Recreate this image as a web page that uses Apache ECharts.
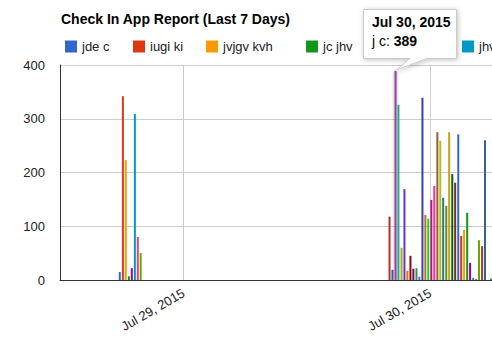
<!DOCTYPE html>
<html>
<head>
<meta charset="utf-8">
<script src="https://cdn.jsdelivr.net/npm/echarts@6/dist/echarts.min.js"></script>
<style>
  html, body { margin: 0; padding: 0; background: #fff; }
  #chart { width: 492px; height: 352px; }
</style>
</head>
<body>
<div id="chart"></div>
<script>
// check-ins per series, one bar each
const barTimes = [
  '2015-07-28 17:48', '2015-07-28 18:06', '2015-07-28 18:23', '2015-07-28 18:41',
  '2015-07-28 18:58', '2015-07-28 19:16', '2015-07-28 19:33', '2015-07-28 19:50',
  '2015-07-29 20:02', '2015-07-29 20:19', '2015-07-29 20:37', '2015-07-29 20:54',
  '2015-07-29 21:12', '2015-07-29 21:29', '2015-07-29 21:46', '2015-07-29 22:04',
  '2015-07-29 22:21', '2015-07-29 22:39', '2015-07-29 22:56', '2015-07-29 23:14',
  '2015-07-29 23:31', '2015-07-29 23:48', '2015-07-30 00:06', '2015-07-30 00:23',
  '2015-07-30 00:41', '2015-07-30 00:58', '2015-07-30 01:15', '2015-07-30 01:33',
  '2015-07-30 01:50', '2015-07-30 02:08', '2015-07-30 02:25', '2015-07-30 02:43',
  '2015-07-30 03:00', '2015-07-30 03:17', '2015-07-30 03:35', '2015-07-30 03:52',
  '2015-07-30 04:10', '2015-07-30 04:27', '2015-07-30 04:44', '2015-07-30 05:02',
  '2015-07-30 05:19', '2015-07-30 05:37', '2015-07-30 05:54'
];
const barValues = [
  15, 342, 223, 7, 22, 309, 80, 50,
  118, 19, 389, 326, 60, 169, 17, 45, 21, 22,
  6, 339, 121, 114, 149, 175, 275, 259, 153, 138,
  275, 197, 181, 271, 82, 93, 125, 32, 4, 2,
  74, 63, 260, 0, 3
];
const seriesNames = ['jde c', 'iugi ki', 'jvjgv kvh', 'jc jhv', '', 'jhv', '', '', '', '', 'j c'];
const legendIdx = [0, 1, 2, 3, 5];
const yTicks = [0, 100, 200, 300, 400];
const tipIdx = 10;

const palette = ['#3366cc', '#dc3912', '#ff9900', '#109618', '#990099', '#0099c6', '#dd4477',
  '#66aa00', '#b82e2e', '#316395', '#994499', '#22aa99', '#aaaa11', '#6633cc', '#e67300',
  '#8b0707', '#651067', '#329262', '#5574a6', '#3b3eac', '#b77322', '#16d620', '#b91383',
  '#f4359e', '#9c5935', '#a9c413', '#2a778d', '#668d1c', '#bea413', '#0c5922', '#743411'];
const months = ['Jan', 'Feb', 'Mar', 'Apr', 'May', 'Jun', 'Jul', 'Aug', 'Sep', 'Oct', 'Nov', 'Dec'];
const FONT = '"Liberation Sans", Arial, sans-serif';

function fmtDate(v) {
  const d = new Date(v);
  return months[d.getMonth()] + ' ' + d.getDate() + ', ' + d.getFullYear();
}
function nameOf(i) {
  return seriesNames[i] || ('series ' + i);
}

const series = barTimes.map(function (t, i) {
  const color = palette[i % palette.length];
  return {
    name: nameOf(i),
    type: 'bar',
    barWidth: 2,
    barGap: '-100%',
    silent: true,
    itemStyle: i === tipIdx
      ? { color: color, shadowBlur: 3, shadowColor: 'rgba(0,0,0,0.45)' }
      : { color: color },
    data: [[t, barValues[i]]]
  };
});

const legendLeft = [65, 133, 206, 306, 462];
const legends = legendIdx.map(function (k, j) {
  return {
    data: [nameOf(k)],
    left: legendLeft[j],
    top: 40,
    padding: 0,
    itemWidth: 12,
    itemHeight: 12,
    icon: 'rect',
    textStyle: { fontSize: 13, color: '#222', fontFamily: FONT },
    selectedMode: false
  };
});

const myChart = echarts.init(document.getElementById('chart'), null, { renderer: 'svg' });
const option = {
  animation: false,
  title: {
    text: 'Check In App Report (Last 7 Days)',
    left: 61,
    top: 12,
    padding: 0,
    textStyle: { fontSize: 14, fontWeight: 'bold', color: '#000', fontFamily: FONT }
  },
  legend: legends,
  grid: { left: 60, top: 65, right: 0, bottom: 72 },
  xAxis: {
    type: 'time',
    min: new Date('2015-07-28T12:05:00').getTime(),
    max: new Date('2015-07-30T05:54:00').getTime(),
    minInterval: 86400000,
    maxInterval: 86400000,
    axisLine: { show: true, lineStyle: { color: '#333', width: 1 } },
    axisTick: { show: false },
    splitLine: { show: true, lineStyle: { color: '#ccc' } },
    axisLabel: {
      rotate: 30,
      margin: 12,
      fontSize: 13,
      color: '#222',
      fontFamily: FONT,
      showMinLabel: false,
      showMaxLabel: false,
      formatter: fmtDate
    }
  },
  yAxis: {
    type: 'value',
    min: yTicks[0],
    max: yTicks[yTicks.length - 1],
    interval: yTicks[1] - yTicks[0],
    axisLine: { show: true, lineStyle: { color: '#333', width: 1 } },
    axisTick: { show: false },
    splitLine: { lineStyle: { color: '#ccc' } },
    axisLabel: { fontSize: 13, color: '#222', margin: 15, fontFamily: FONT }
  },
  series: series
};
myChart.setOption(option);

// hover tooltip box pointing at the tallest bar
const tip = myChart.convertToPixel({ gridIndex: 0 }, [barTimes[tipIdx], barValues[tipIdx]]);
const bx = 363.5, by = 9.5, bw = 93, bh = 49;
myChart.setOption({
  graphic: [
    {
      type: 'polygon',
      z: 100,
      shape: {
        points: [[bx, by], [bx + bw, by], [bx + bw, by + bh], [427, by + bh],
          [tip[0] + 1, tip[1] - 1], [410, by + bh], [bx, by + bh]]
      },
      style: {
        fill: '#fff', stroke: '#ccc', lineWidth: 1,
        shadowBlur: 5, shadowColor: 'rgba(0,0,0,0.25)', shadowOffsetX: 1, shadowOffsetY: 1
      }
    },
    {
      type: 'text',
      z: 101,
      left: 372,
      top: 15,
      style: {
        text: 'Jul 30, 2015',
        font: 'bold 14px ' + FONT,
        fill: '#000'
      }
    },
    {
      type: 'text',
      z: 101,
      left: 372,
      top: 34,
      style: {
        text: '{n|' + nameOf(tipIdx) + ': }{b|' + barValues[tipIdx] + '}',
        rich: {
          n: { fontSize: 14, fontFamily: FONT, color: '#000' },
          b: { fontSize: 14, fontFamily: FONT, fontWeight: 'bold', color: '#000' }
        }
      }
    }
  ]
});
</script>
</body>
</html>
